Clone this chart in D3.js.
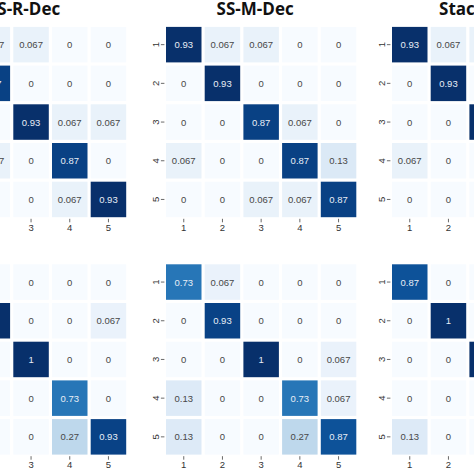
<!DOCTYPE html>
<html><head><meta charset="utf-8">
<script src="https://cdn.jsdelivr.net/npm/d3@7"></script>
<style>html,body{margin:0;padding:0;background:#fff;overflow:hidden}</style>
</head><body><svg id="c" width="474" height="474"></svg>
<script>
const labels = ["1","2","3","4","5"];
const titles = ["SS-R-Dec","SS-M-Dec","Stacking"];
const ssrTop = [[0.93,0.067,0.067,0,0],[0,0.87,0,0,0],[0,0,0.93,0.067,0.067],[0.067,0.067,0,0.87,0],[0,0,0,0.067,0.93]];
const ssmTop = [[0.93,0.067,0.067,0,0],[0,0.93,0,0,0],[0,0,0.87,0.067,0],[0.067,0,0,0.87,0.13],[0,0,0.067,0.067,0.87]];
const stkTop = [[0.93,0.067,0.067,0,0],[0,0.93,0,0,0],[0,0,0.93,0,0],[0.067,0,0,0.93,0.067],[0,0,0,0.067,0.93]];
const ssrBot = [[1,0,0,0,0],[0,1,0,0,0.067],[0,0,1,0,0],[0,0,0,0.73,0],[0,0,0,0.27,0.93]];
const ssmBot = [[0.73,0.067,0,0,0],[0,0.93,0,0,0],[0,0,1,0,0.067],[0.13,0,0,0.73,0.067],[0.13,0,0,0.27,0.87]];
const stkBot = [[0.87,0,0,0,0],[0,1,0,0,0],[0,0,1,0,0],[0,0,0,0.93,0],[0.13,0,0,0.067,1]];

const svg = d3.select("#c");
svg.append("rect").attr("width",474).attr("height",474).attr("fill","#fff");

const colLeft = [-65.7, 164.4, 390.4];
const rowTop = [25.3, 262.7];
const titleShift = [-7, -6, -12];
const size = 193.5;
const gap = 1.6;
const panels = [
  {m: ssrTop, c:0, r:0, title: titles[0]},
  {m: ssmTop, c:1, r:0, title: titles[1]},
  {m: stkTop, c:2, r:0, title: titles[2]},
  {m: ssrBot, c:0, r:1, title: null},
  {m: ssmBot, c:1, r:1, title: null},
  {m: stkBot, c:2, r:1, title: null}
];

function lum(c){
  const rgb = d3.rgb(c);
  const f = v => { v/=255; return v <= 0.03928 ? v/12.92 : Math.pow((v+0.055)/1.055, 2.4); };
  return 0.2126*f(rgb.r)+0.7152*f(rgb.g)+0.0722*f(rgb.b);
}

panels.forEach(p => {
  const x0 = colLeft[p.c], y0 = rowTop[p.r];
  const x = d3.scaleBand().domain(labels).range([x0, x0+size]).padding(0);
  const y = d3.scaleBand().domain(labels).range([y0, y0+size]).padding(0);
  const vmax = d3.max(p.m.flat());
  const color = d3.scaleSequential(d3.interpolateBlues).domain([0, vmax]);
  const g = svg.append("g");
  const cells = [];
  p.m.forEach((row,i) => row.forEach((v,j) => cells.push({i,j,v})));
  g.selectAll("rect.cell").data(cells).join("rect")
    .attr("x", d => x(labels[d.j]) + gap)
    .attr("y", d => y(labels[d.i]) + gap)
    .attr("width", x.bandwidth() - 2*gap)
    .attr("height", y.bandwidth() - 2*gap)
    .attr("fill", d => color(d.v));
  g.selectAll("text.ann").data(cells).join("text")
    .attr("x", d => x(labels[d.j]) + x.bandwidth()/2)
    .attr("y", d => y(labels[d.i]) + y.bandwidth()/2)
    .attr("text-anchor","middle").attr("dominant-baseline","central")
    .attr("font-family","'Liberation Sans', Arial, sans-serif").attr("font-size","9.5px")
    .attr("fill", d => lum(color(d.v)) > 0.408 ? "#474747" : "#e8eef6")
    .text(d => d.v === 0 ? "0" : d.v === 1 ? "1" : String(d.v));

  const xa = g.append("g").attr("transform",`translate(0,${y0+size})`)
    .call(d3.axisBottom(x).tickSize(3.5).tickPadding(2));
  xa.select(".domain").remove();
  xa.selectAll("line").attr("stroke","#444").attr("stroke-width",0.8);
  xa.selectAll("text").attr("font-family","'Liberation Sans', Arial, sans-serif").attr("font-size","9.5px").attr("fill","#333");

  const ya = g.append("g").attr("transform",`translate(${x0},0)`)
    .call(d3.axisLeft(y).tickSize(3.5).tickPadding(2));
  ya.select(".domain").remove();
  ya.selectAll("line").attr("stroke","#444").attr("stroke-width",0.8);
  ya.selectAll("text").attr("font-family","'Liberation Sans', Arial, sans-serif").attr("font-size","9.5px").attr("fill","#333")
    .attr("text-anchor","middle").attr("dy",null)
    .attr("x",null)
    .attr("transform","translate(-9,0) rotate(-90)")
    .attr("dominant-baseline","central");

  if (p.title) {
    svg.append("text").attr("x", x0 + size/2 + titleShift[p.c]).attr("y", 14.5)
      .attr("text-anchor","middle")
      .attr("font-family","'Open Sans', sans-serif").attr("font-weight","bold").attr("font-size","17px")
      .attr("fill","#111").text(p.title);
  }
});
</script></body></html>
